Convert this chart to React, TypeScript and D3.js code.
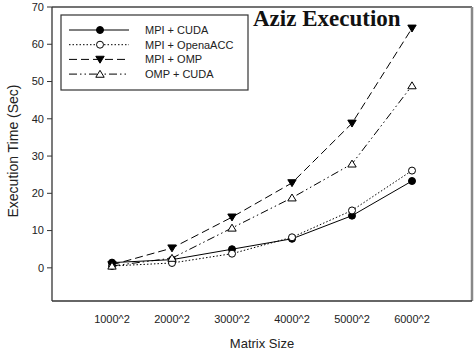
import * as d3 from 'd3';

const W = 474;
const H = 352;

const sizes = ['1000^2', '2000^2', '3000^2', '4000^2', '5000^2', '6000^2'];
const yTicks = [0, 10, 20, 30, 40, 50, 60, 70];

const mpiCuda = [1.4, 2.2, 5.0, 7.8, 14.0, 23.3];
const mpiAcc = [0.5, 1.3, 3.8, 8.2, 15.4, 26.1];
const mpiOmp = [0.8, 5.3, 13.6, 22.8, 38.8, 64.3];
const ompCuda = [0.5, 2.6, 10.7, 18.8, 27.9, 48.9];

const seriesNames = ['MPI + CUDA', 'MPI + OpenaACC', 'MPI + OMP', 'OMP + CUDA'];

type Style = { values: number[]; dash: string; marker: string; fill: string };
const styles: Style[] = [
  { values: mpiCuda, dash: '', marker: 'circle', fill: '#000' },
  { values: mpiAcc, dash: '1.5,2', marker: 'circle', fill: '#fff' },
  { values: mpiOmp, dash: '8,4', marker: 'tridown', fill: '#000' },
  { values: ompCuda, dash: '8,3,1.5,3,1.5,3', marker: 'triup', fill: '#fff' },
];

const margin = { left: 52, top: 7, right: 2, bottom: 51 };

function Marker({ kind, x, y, fill }: { kind: string; x: number; y: number; fill: string }) {
  if (kind === 'circle') {
    return <circle cx={x} cy={y} r={3.5} fill={fill} stroke="#000" strokeWidth={1} />;
  }
  const s = 4.2;
  const pts = kind === 'tridown'
    ? [[x - s, y - s * 0.75], [x + s, y - s * 0.75], [x, y + s * 0.9]]
    : [[x - s, y + s * 0.75], [x + s, y + s * 0.75], [x, y - s * 0.9]];
  return <polygon points={pts.map(p => p.join(',')).join(' ')} fill={fill} stroke="#000" strokeWidth={1} />;
}

export default function App() {
  const x = d3.scaleLinear().domain([0, 7]).range([margin.left, W - margin.right]);
  const y = d3.scaleLinear().domain([-8.9, 70]).range([H - margin.bottom, margin.top]);
  const line = d3.line<number>().x((_, i) => x(i + 1)).y(d => y(d));

  const x0 = x(0), x1 = x(7), y0 = y(-8.9), y1 = y(70);

  return (
    <svg width={W} height={H} style={{ position: 'absolute', left: 0, top: 0, background: '#fff' }}
      fontFamily="'Liberation Sans', Arial, sans-serif">
      {/* frame */}
      <line x1={x0} x2={x1} y1={y1} y2={y1} stroke="#444" strokeWidth={1.3} />
      <line x1={x1} x2={x1} y1={y1} y2={y0} stroke="#888" strokeWidth={2.5} />
      <line x1={x0} x2={x0} y1={y1} y2={y0} stroke="#333" strokeWidth={1.3} />
      <line x1={x0} x2={x1} y1={y0} y2={y0} stroke="#333" strokeWidth={1.3} />

      {/* y ticks */}
      {yTicks.map(t => (
        <g key={t}>
          <line x1={x0 - 5} x2={x0} y1={y(t)} y2={y(t)} stroke="#333" />
          <text x={x0 - 8} y={y(t)} dy="0.35em" textAnchor="end" fontSize={11} fill="#222">{t}</text>
        </g>
      ))}

      {/* x tick labels */}
      {sizes.map((s, i) => (
        <text key={s} x={x(i + 1)} y={y0 + 22} textAnchor="middle" fontSize={11} fill="#222">{s}</text>
      ))}

      <text x={(x0 + x1) / 2} y={348} textAnchor="middle" fontSize={13} fill="#222">Matrix Size</text>
      <text transform="translate(18,151) rotate(-90)" textAnchor="middle" fontSize={14} fill="#222">
        Execution Time (Sec)
      </text>

      {/* series */}
      {styles.map((s, k) => (
        <g key={k}>
          <path d={line(s.values) ?? ''} fill="none" stroke="#000" strokeWidth={1} strokeDasharray={s.dash} />
          {s.values.map((v, i) => <Marker key={i} kind={s.marker} x={x(i + 1)} y={y(v)} fill={s.fill} />)}
        </g>
      ))}

      {/* title */}
      <text x={253} y={26} fontFamily="'Liberation Serif', 'Times New Roman', serif" fontWeight="bold" fontSize={23} fill="#111">
        Aziz Execution
      </text>

      {/* legend */}
      <rect x={61} y={15} width={187} height={75} fill="#fff" stroke="#333" strokeWidth={1.2} />
      {seriesNames.map((n, k) => {
        const ly = 30 + k * 14.7;
        const s = styles[k];
        return (
          <g key={n}>
            <line x1={69} x2={129} y1={ly} y2={ly} stroke="#000" strokeDasharray={s.dash} />
            <Marker kind={s.marker} x={100} y={ly} fill={s.fill} />
            <text x={145} y={ly} dy="0.35em" fontSize={11} fill="#222">{n}</text>
          </g>
        );
      })}
    </svg>
  );
}
